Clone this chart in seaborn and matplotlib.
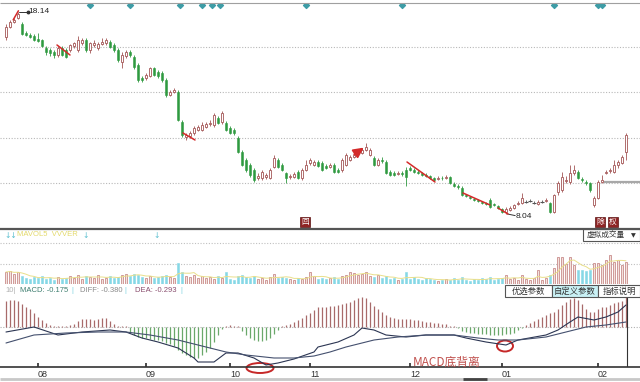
import numpy as np
import pandas as pd
import matplotlib.pyplot as plt
import seaborn as sns
from matplotlib.patches import Rectangle, Ellipse

# daily candles (Aug -> early Feb)
opens = [
    16.89, 17.39, 17.64, 17.84, 17.54, 17.09, 16.99, 16.94, 16.79, 16.74,
    16.34, 16.24, 16.14, 15.99, 16.34, 16.24, 16.24, 16.44, 16.24, 16.59,
    16.74, 16.24, 16.49, 16.34, 16.54, 16.59, 16.64, 16.49, 16.24, 15.64,
    15.94, 16.14, 15.89, 15.49, 14.84, 14.84, 14.94, 15.34, 15.14, 15.09,
    14.74, 13.99, 14.14, 14.14, 12.64, 11.89, 11.94, 12.09, 12.24, 12.24,
    12.39, 12.54, 12.49, 12.84, 12.64, 12.59, 12.34, 12.24, 11.84, 11.14,
    10.74, 10.49, 10.24, 9.84, 9.84, 9.89, 9.84, 10.39, 10.74, 10.49,
    10.09, 9.89, 9.89, 10.14, 9.84, 10.24, 10.59, 10.49, 10.64, 10.59,
    10.44, 10.39, 10.49, 10.24, 10.24, 10.49, 10.74, 10.89, 11.09, 11.09,
    11.24, 10.99, 10.84, 10.49, 10.74, 10.64, 10.14, 10.09, 10.04, 10.09,
    10.24, 10.34, 10.24, 10.14, 10.09, 9.99, 9.94, 9.84, 9.79, 9.84,
    9.84, 9.89, 9.54, 9.44, 9.34, 8.99, 8.89, 8.79, 8.74, 8.64,
    8.59, 8.74, 8.54, 8.44, 8.29, 8.12, 8.24, 8.34, 8.54, 8.59,
    8.64, 8.69, 8.59, 8.54, 8.64, 8.69, 8.59, 8.14, 9.14, 9.24,
    9.69, 9.64, 10.09, 10.14, 9.79, 9.64, 9.59, 8.49, 8.84, 9.64,
    10.09, 10.19, 10.14, 10.49, 10.59, 11.14,
]
closes = [
    17.39, 17.64, 17.74, 18.04, 17.04, 16.99, 16.89, 16.74, 16.69, 16.44,
    16.14, 16.09, 15.99, 16.34, 15.99, 15.89, 16.49, 16.59, 16.74, 16.74,
    16.24, 16.59, 16.59, 16.54, 16.64, 16.74, 16.39, 16.24, 15.74, 15.99,
    16.14, 15.99, 15.39, 14.74, 14.74, 14.99, 15.34, 14.99, 14.94, 14.74,
    13.99, 14.14, 14.24, 12.74, 11.99, 11.99, 12.09, 12.34, 12.39, 12.49,
    12.54, 12.59, 12.99, 12.59, 13.09, 12.24, 12.09, 12.09, 11.14, 10.49,
    10.24, 9.99, 9.74, 9.94, 10.14, 9.99, 10.24, 10.84, 10.39, 10.24,
    9.84, 9.94, 10.04, 9.84, 10.24, 10.49, 10.74, 10.64, 10.44, 10.24,
    10.34, 10.49, 10.14, 10.14, 10.74, 10.99, 10.89, 10.99, 11.14, 11.24,
    11.39, 11.24, 10.49, 10.74, 10.69, 10.09, 9.99, 9.99, 10.09, 10.04,
    9.89, 10.24, 10.14, 10.09, 9.99, 9.94, 9.84, 9.74, 9.84, 9.82,
    9.89, 9.59, 9.44, 9.39, 8.99, 8.94, 8.84, 8.74, 8.69, 8.59,
    8.54, 8.39, 8.49, 8.34, 8.14, 8.29, 8.34, 8.49, 8.59, 8.84,
    8.64, 8.69, 8.59, 8.64, 8.64, 8.74, 8.14, 8.99, 9.59, 9.89,
    9.74, 10.09, 10.24, 9.84, 9.74, 9.59, 9.24, 8.84, 9.64, 9.74,
    10.14, 10.24, 10.49, 10.64, 10.89, 11.99,
]
highs = [
    17.54, 17.74, 17.84, 18.14, 17.64, 17.19, 17.09, 17.04, 17.09, 16.79,
    16.44, 16.34, 16.24, 16.44, 16.44, 16.34, 16.54, 16.64, 16.94, 16.84,
    16.84, 16.64, 16.74, 16.64, 16.84, 16.84, 16.74, 16.59, 16.34, 16.14,
    16.24, 16.24, 15.99, 15.59, 14.94, 15.09, 15.39, 15.39, 15.24, 15.19,
    14.84, 14.24, 14.34, 14.24, 12.74, 12.09, 12.19, 12.44, 12.49, 12.64,
    12.64, 12.74, 13.09, 12.94, 13.19, 12.69, 12.44, 12.34, 11.94, 11.24,
    10.84, 10.59, 10.34, 10.09, 10.24, 10.09, 10.34, 10.99, 10.84, 10.59,
    10.14, 10.04, 10.14, 10.24, 10.34, 10.74, 10.84, 10.74, 10.74, 10.69,
    10.54, 10.59, 10.59, 10.34, 10.84, 11.09, 10.99, 11.09, 11.24, 11.34,
    11.59, 11.34, 10.94, 10.84, 10.89, 10.74, 10.24, 10.19, 10.19, 10.19,
    10.39, 10.44, 10.34, 10.24, 10.14, 10.09, 9.99, 9.89, 9.94, 9.94,
    9.99, 9.94, 9.64, 9.54, 9.44, 9.04, 8.94, 8.84, 8.79, 8.69,
    8.64, 8.84, 8.59, 8.49, 8.34, 8.39, 8.44, 8.54, 8.69, 9.09,
    8.74, 8.79, 8.69, 8.74, 8.74, 8.84, 8.64, 9.04, 9.69, 10.14,
    9.94, 10.49, 10.49, 10.24, 9.89, 9.74, 9.64, 8.94, 9.74, 9.99,
    10.24, 10.34, 10.74, 10.74, 10.99, 12.09,
]
lows = [
    16.74, 17.34, 17.59, 17.79, 16.99, 16.94, 16.84, 16.69, 16.64, 16.39,
    15.99, 15.94, 15.84, 15.89, 15.94, 15.84, 16.14, 16.34, 16.14, 16.49,
    16.14, 16.09, 16.39, 16.24, 16.49, 16.49, 16.34, 16.14, 15.64, 15.34,
    15.84, 15.89, 15.29, 14.64, 14.64, 14.74, 14.89, 14.94, 14.84, 14.64,
    13.89, 13.94, 14.09, 12.69, 11.89, 11.74, 11.84, 11.99, 12.19, 12.19,
    12.34, 12.44, 12.39, 12.54, 12.54, 12.19, 12.04, 11.99, 11.09, 10.44,
    10.14, 9.89, 9.64, 9.74, 9.74, 9.79, 9.79, 10.34, 10.34, 10.19,
    9.59, 9.79, 9.84, 9.79, 9.74, 10.19, 10.49, 10.44, 10.39, 10.19,
    10.29, 10.34, 10.09, 10.09, 10.14, 10.44, 10.69, 10.84, 10.99, 11.04,
    11.19, 10.94, 10.44, 10.44, 10.59, 10.04, 9.94, 9.94, 9.99, 9.94,
    9.44, 10.19, 10.09, 10.04, 9.94, 9.89, 9.79, 9.69, 9.74, 9.74,
    9.79, 9.54, 9.39, 9.29, 8.94, 8.89, 8.79, 8.69, 8.64, 8.54,
    8.49, 8.34, 8.44, 8.29, 8.09, 8.04, 8.19, 8.29, 8.49, 8.54,
    8.59, 8.64, 8.54, 8.49, 8.59, 8.64, 8.09, 8.09, 8.99, 9.14,
    9.59, 9.54, 9.99, 9.79, 9.64, 9.49, 9.14, 8.39, 8.79, 9.59,
    10.04, 10.09, 10.09, 10.34, 10.54, 10.74,
]
volumes = [
    12, 13, 10, 12, 8, 6, 5, 7, 6, 8,
    5, 6, 4, 7, 5, 6, 8, 6, 9, 5,
    8, 7, 6, 9, 5, 6, 8, 6, 7, 9,
    10, 8, 10, 9, 7, 6, 8, 6, 7, 8,
    9, 7, 6, 21, 12, 8, 7, 9, 6, 8,
    6, 7, 5, 8, 6, 12, 5, 4, 8, 9,
    7, 6, 8, 5, 6, 4, 7, 10, 6, 7,
    6, 5, 4, 6, 5, 7, 12, 8, 5, 6,
    5, 6, 7, 5, 8, 9, 12, 11, 9, 10,
    12, 8, 7, 9, 6, 8, 5, 6, 4, 5,
    12, 5, 7, 5, 4, 6, 5, 4, 3, 4,
    5, 4, 6, 4, 7, 4, 3, 5, 4, 6,
    5, 7, 4, 5, 6, 9, 5, 6, 4, 9,
    5, 4, 6, 14, 4, 6, 9, 16, 27, 27,
    20, 27, 19, 14, 14, 13, 14, 21, 21, 19,
    24, 29, 22, 24, 19, 22,
]
macd_hist = [
    0.26, 0.27, 0.27, 0.26, 0.23, 0.20, 0.18, 0.14, 0.10, 0.07,
    0.04, 0.02, 0.01, 0.01, 0.01, 0.01, 0.02, 0.03, 0.06, 0.08,
    0.08, 0.08, 0.07, 0.08, 0.09, 0.09, 0.06, 0.03, 0.01, 0.01,
    0.01, -0.06, -0.08, -0.10, -0.11, -0.11, -0.12, -0.13, -0.13, -0.14,
    -0.16, -0.17, -0.19, -0.23, -0.26, -0.28, -0.30, -0.31, -0.31, -0.28,
    -0.25, -0.21, -0.15, -0.08, -0.02, 0.01, 0.02, 0.01, 0.01, -0.04,
    -0.08, -0.11, -0.13, -0.14, -0.14, -0.13, -0.11, -0.07, -0.03, 0.01,
    0.02, 0.03, 0.05, 0.07, 0.09, 0.12, 0.14, 0.17, 0.20, 0.20,
    0.20, 0.21, 0.21, 0.22, 0.23, 0.24, 0.25, 0.27, 0.29, 0.30,
    0.29, 0.25, 0.21, 0.18, 0.15, 0.12, 0.10, 0.09, 0.08, 0.08,
    0.08, 0.08, 0.07, 0.07, 0.06, 0.05, 0.05, 0.04, 0.04, 0.03,
    0.03, 0.01, 0.01, -0.01, -0.04, -0.05, -0.06, -0.06, -0.07, -0.07,
    -0.07, -0.08, -0.08, -0.08, -0.08, -0.07, -0.07, -0.06, -0.03, -0.01,
    0.02, 0.04, 0.06, 0.08, 0.10, 0.12, 0.14, 0.15, 0.18, 0.22,
    0.25, 0.28, 0.29, 0.27, 0.23, 0.18, 0.15, 0.15, 0.18, 0.20,
    0.20, 0.22, 0.24, 0.25, 0.26, 0.30,
]
diff_idx = [0, 7, 13, 19, 26, 30, 34, 38, 43, 47, 48, 52, 55, 58, 62, 65, 68, 72, 77, 78,
            83, 87, 89, 92, 95, 100, 105, 112, 115, 120, 125, 128, 135, 138, 141, 143,
            147, 150, 153, 155]
diff_vals = [-0.05, 0.00, -0.08, -0.05, -0.03, -0.05, -0.11, -0.15, -0.21, -0.31,
             -0.35, -0.35, -0.26, -0.26, -0.31, -0.38, -0.36, -0.32, -0.25, -0.20,
             -0.15, -0.08, -0.01, -0.03, -0.08, -0.10, -0.08, -0.08, -0.11, -0.15,
             -0.18, -0.13, -0.08, -0.03, 0.05, 0.10, 0.07, 0.10, 0.15, 0.22]
dea_idx = [0, 7, 15, 23, 30, 36, 43, 48, 55, 60, 67, 72, 77, 81, 85, 92, 98, 105, 112,
           118, 123, 128, 135, 140, 145, 150, 155]
dea_vals = [-0.16, -0.08, -0.06, -0.05, -0.05, -0.08, -0.13, -0.18, -0.25, -0.28,
            -0.31, -0.31, -0.29, -0.25, -0.20, -0.13, -0.10, -0.08, -0.08, -0.11,
            -0.13, -0.13, -0.10, -0.05, 0.00, 0.02, 0.05]

month_idx = [8, 35, 56, 76, 101, 124, 148]
month_labels = ["08", "09", "10", "11", "12", "01", "02"]
signal_idx = [21, 31, 43.5, 49, 51.5, 53.5, 75, 99, 137, 148, 149]
price_grid = [16.39, 14.14, 11.84, 9.59]
vol_grid = [20, 41]

# red trend strokes drawn on the price panel: (idx0, p0, idx1, p1)
trend_marks = [
    (1.8, 17.75, 3.1, 18.20),
    (12.75, 16.49, 16.0, 15.99),
    (44.25, 12.09, 47.25, 11.74),
    (100.25, 10.64, 107.25, 9.64),
    (114.25, 9.09, 121.0, 8.49),
    (123.0, 8.34, 125.5, 8.04),
]
arrow_mark = (86.5, 10.94, 90.0, 11.44)
event_idx = [74.75, 148.5, 151.75]
event_text = ["回", "除", "权"]

UP = "#a45656"
DOWN = "#2f9a40"
CJK = ["Noto Sans CJK SC", "DejaVu Sans"]


def main():
    sns.set_theme(style="white")
    plt.rcParams["font.family"] = ["Liberation Sans", "Noto Sans CJK SC", "DejaVu Sans"]

    df = pd.DataFrame({"open": opens, "close": closes, "high": highs, "low": lows,
                       "vol": volumes, "hist": macd_hist})
    df["idx"] = np.arange(len(df))
    up = df["close"] > df["open"]
    down = df["close"] < df["open"]
    flat = ~(up | down)

    W, H = 640, 382
    fig = plt.figure(figsize=(W / 100, H / 100), dpi=100, facecolor="white")

    def px_axes(y_top, y_bot):
        return fig.add_axes([0, 1 - y_bot / H, 1, (y_bot - y_top) / H])

    xlim = (-1.5, 158.5)

    # ---- price panel
    ax = px_axes(3, 228)
    ax.set_facecolor("none")
    ax.set_xlim(*xlim)
    ax.set_ylim(7.34, 18.59)
    ax.set_yticks(price_grid)
    ax.yaxis.grid(True, ls=(0, (1, 1.5)), color="#b8b8b8", lw=0.8)
    ax.tick_params(left=False, bottom=False, labelleft=False, labelbottom=False)
    for s in ax.spines.values():
        s.set_visible(False)

    wick_col = np.where(up, UP, np.where(down, DOWN, "#555555"))
    ax.vlines(df["idx"], df["low"], df["high"], colors=wick_col, lw=0.6, zorder=2)
    d_up = df[up]
    ax.bar(d_up["idx"], d_up["close"] - d_up["open"], bottom=d_up["open"], width=0.72,
           facecolor="white", edgecolor=UP, lw=0.6, zorder=3)
    d_dn = df[down]
    ax.bar(d_dn["idx"], d_dn["open"] - d_dn["close"], bottom=d_dn["close"], width=0.72,
           facecolor=DOWN, edgecolor=DOWN, lw=0.4, zorder=3)
    d_fl = df[flat]
    ax.hlines(d_fl["open"], d_fl["idx"] - 0.4, d_fl["idx"] + 0.4, colors="#555555", lw=0.8, zorder=3)

    for x0, p0, x1, p1 in trend_marks:
        ax.plot([x0, x1], [p0, p1], color="#d42a2a", lw=1.1, zorder=4)
    x0, p0, x1, p1 = arrow_mark
    ax.annotate("", xy=(x1, p1), xytext=(x0, p0),
                arrowprops=dict(arrowstyle="-|>,head_length=0.5,head_width=0.25",
                                color="#d42a2a", lw=1.4), zorder=4)

    ax.scatter(signal_idx, [18.49] * len(signal_idx), marker="D", s=9, color="#3d9ca6", zorder=5)

    top_i = int(np.argmax(highs))
    ax.plot([top_i + 0.3, top_i + 2.4], [highs[top_i], highs[top_i]], color="#333333", lw=0.7)
    ax.plot([top_i + 2.4], [highs[top_i]], "o", ms=1.8, color="#333333")
    ax.text(top_i + 2.7, highs[top_i], f"{highs[top_i]:.2f}", fontsize=6, va="center", color="#222222")
    low_i = int(np.argmin(lows))
    ax.plot([low_i + 0.4, low_i + 2.3], [lows[low_i], lows[low_i] - 0.08], color="#333333", lw=0.7)
    ax.text(low_i + 2.5, lows[low_i] - 0.12, f"{lows[low_i]:.2f}", fontsize=6, va="center", color="#222222")

    ax.hlines(9.64, 149.5, 158.5, color="#a8a8a8", lw=1.6)
    for i, t in zip(event_idx, event_text):
        ax.text(i, 7.64, t, fontsize=5.5, color="white", ha="center", va="center", family=CJK,
                bbox=dict(boxstyle="square,pad=0.15", facecolor="#8e2424", edgecolor="#5a1010", lw=0.5))

    # ---- volume panel
    axv = px_axes(241, 284)
    axv.set_facecolor("none")
    axv.set_xlim(*xlim)
    axv.set_ylim(0, 43)
    axv.set_yticks(vol_grid)
    axv.yaxis.grid(True, ls=(0, (1, 1.5)), color="#c0c0c0", lw=0.8)
    axv.tick_params(left=False, bottom=False, labelleft=False, labelbottom=False)
    for s in axv.spines.values():
        s.set_visible(False)
    axv.bar(df.loc[~down, "idx"], df.loc[~down, "vol"], width=0.62, facecolor="#f4e2dc",
            edgecolor="#c98c8c", lw=0.6)
    axv.bar(df.loc[down, "idx"], df.loc[down, "vol"], width=0.62, facecolor="#86d8e6",
            edgecolor="#86d8e6", lw=0.4)
    df["vol_ma"] = df["vol"].rolling(5, min_periods=1).mean()
    sns.lineplot(data=df, x="idx", y="vol_ma", ax=axv, color="#e9df8a", lw=0.7)
    axv.set_xlabel("")
    axv.set_ylabel("")

    # ---- MACD panel
    axm = px_axes(285, 367)
    axm.set_facecolor("none")
    axm.set_xlim(*xlim)
    axm.set_ylim(-0.40, 0.42)
    axm.axhline(0, ls=(0, (1, 1.5)), color="#b0b0b0", lw=0.8)
    hcol = np.where(df["hist"] >= 0, "#a86a6a", "#6aa86a")
    axm.vlines(df["idx"], 0, df["hist"], colors=hcol, lw=0.9)
    sns.lineplot(x=diff_idx, y=diff_vals, ax=axm, color="#2b3552", lw=0.8)
    sns.lineplot(x=dea_idx, y=dea_vals, ax=axm, color="#44506e", lw=0.8)
    axm.vlines(155.25, -0.40, 0.30, color="#333333", lw=0.8)
    axm.add_patch(Ellipse((63.5, -0.41), 6.75, 0.10, fill=False, ec="#c62828", lw=1.4, clip_on=False))
    axm.add_patch(Ellipse((124.75, -0.19), 4.0, 0.11, fill=False, ec="#c62828", lw=1.4, clip_on=False))
    axm.text(101.75, -0.35, "MACD底背离", color="#c0504d", fontsize=8.5, va="center", family=CJK)
    for side in ["top", "left", "right"]:
        axm.spines[side].set_visible(False)
    axm.spines["bottom"].set_color("#333333")
    axm.spines["bottom"].set_linewidth(1.2)
    axm.set_xticks(month_idx, month_labels)
    axm.tick_params(axis="x", direction="in", length=3, color="#333333", labelsize=6.5,
                    labelcolor="#333333", pad=2, bottom=True)
    for lbl in axm.get_xticklabels():
        lbl.set_ha("left")
    axm.tick_params(axis="y", left=False, labelleft=False)
    axm.set_xlabel("")
    axm.set_ylabel("")

    # ---- window furniture (pixel coordinates)
    deco = fig.add_axes([0, 0, 1, 1], zorder=10)
    deco.set_facecolor("none")
    deco.set_xlim(0, W)
    deco.set_ylim(H, 0)
    deco.axis("off")
    deco.hlines(3, 0, W, color="#a0a0a0", lw=0.8)
    deco.hlines(228.5, 0, W, color="#555555", lw=1.6)
    deco.hlines(379, 0, W, color="#c8c8c8", lw=2)
    deco.hlines(379, 463, 487, color="#444444", lw=2)

    deco.text(4, 235, "↓↓", fontsize=5.5, color="#5bbfcf", va="center", family=["DejaVu Sans"])
    deco.text(17, 235, "MAVOL5  VVVER", fontsize=5.5, color="#e3d96a", va="center")
    deco.text(82, 235, "↓", fontsize=5.5, color="#5bbfcf", va="center", family=["DejaVu Sans"])
    deco.text(153, 235, "↓", fontsize=5.5, color="#5bbfcf", va="center", family=["DejaVu Sans"])

    deco.add_patch(Rectangle((583, 229), 57, 12, facecolor="white", edgecolor="#555555", lw=0.8))
    deco.text(587, 235.5, "虚拟成交量", fontsize=5.5, color="#333333", va="center", family=CJK)
    deco.text(633, 235.5, "▼", fontsize=4.5, color="#333333", va="center", ha="center",
              family=["DejaVu Sans"])

    buttons = [("优选参数", 505, 47, "white"), ("自定义参数", 552, 46, "#c9f1f5"),
               ("指标说明", 598, 42, "white")]
    for label, bx, bw, fc in buttons:
        deco.add_patch(Rectangle((bx, 285), bw, 12, facecolor=fc, edgecolor="#555555", lw=0.8))
        deco.text(bx + bw / 2, 291.5, label, fontsize=6, color="#333333", ha="center",
                  va="center", family=CJK)

    header = [("10|", 5, "#b0b0b0"), ("MACD: -0.175", 20, "#3f7f70"), ("|", 71, "#7fd3e0"),
              ("DIFF: -0.380", 80, "#8a8a8a"), ("|", 124, "#7fd3e0"),
              ("DEA: -0.293", 135, "#8a4f6f"), ("|", 180, "#7fd3e0")]
    for t, hx, c in header:
        deco.text(hx, 291, t, fontsize=5.5, color=c, va="center")

    fig.savefig("out.png", dpi=100)
    plt.close(fig)


if __name__ == "__main__":
    main()
